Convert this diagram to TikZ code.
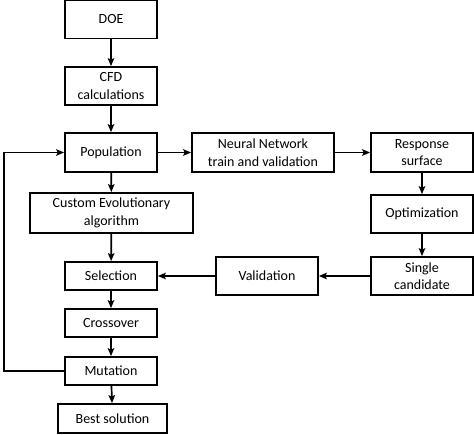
\documentclass[tikz,border=0pt]{standalone}
\usepackage{fontspec}
\setmainfont{Carlito}
\usetikzlibrary{arrows.meta}
\begin{document}
\begin{tikzpicture}[x=1pt,y=1pt,
  box/.style={draw=black, line width=1.7pt, fill=white, inner sep=0pt, align=center,
    font=\fontsize{14}{17.5}\selectfont, minimum width=92pt, minimum height=38pt},
  arr/.style={line width=1.7pt, -{Stealth[length=8pt,width=6.5pt,inset=1.5pt]}},
  ln/.style={line width=1.7pt}]
\useasboundingbox (0,0) rectangle (474,-435);
\node[box] (doe) at (111,-19.5) {DOE};
\node[box] (cfd) at (111,-86) {CFD\\calculations};
\node[box, minimum height=39pt] (pop) at (111,-152.5) {Population};
\node[box, minimum width=142pt, minimum height=39pt] (nn) at (263,-152.5) {Neural Network\\train and validation};
\node[box, minimum width=102pt, minimum height=39pt] (rs) at (422,-152.5) {Response\\surface};
\node[box, minimum width=102pt] (opt) at (422,-214) {Optimization};
\node[box, minimum width=102pt] (sc) at (422,-276) {Single\\candidate};
\node[box, minimum width=102pt] (val) at (267,-276) {Validation};
\node[box, minimum width=163pt, minimum height=40pt] (cea) at (111.5,-213) {Custom Evolutionary\\algorithm};
\node[box, minimum height=28pt] (sel) at (111,-276) {Selection};
\node[box, minimum height=28pt] (cro) at (111,-323) {Crossover};
\node[box, minimum height=28pt] (mut) at (111,-371) {Mutation};
\node[box, minimum width=109pt, minimum height=29pt] (best) at (112.5,-418.5) {Best solution};
\coordinate (fb) at (4,-371);
\draw[arr] (doe) -- (cfd);
\draw[arr] (cfd) -- (pop);
\draw[arr] (pop) -- (nn);
\draw[arr] (nn) -- (rs);
\draw[arr] (rs) -- (opt);
\draw[arr] (opt) -- (sc);
\draw[arr] (sc) -- (val);
\draw[arr] (val) -- (sel);
\draw[arr] (pop) -- (cea);
\draw[arr] (cea) -- (sel);
\draw[arr] (sel) -- (cro);
\draw[arr] (cro) -- (mut);
\draw[arr] (mut) -- (best);
\draw[arr] (mut.west) -- (fb) |- (pop.west);
\end{tikzpicture}
\end{document}
